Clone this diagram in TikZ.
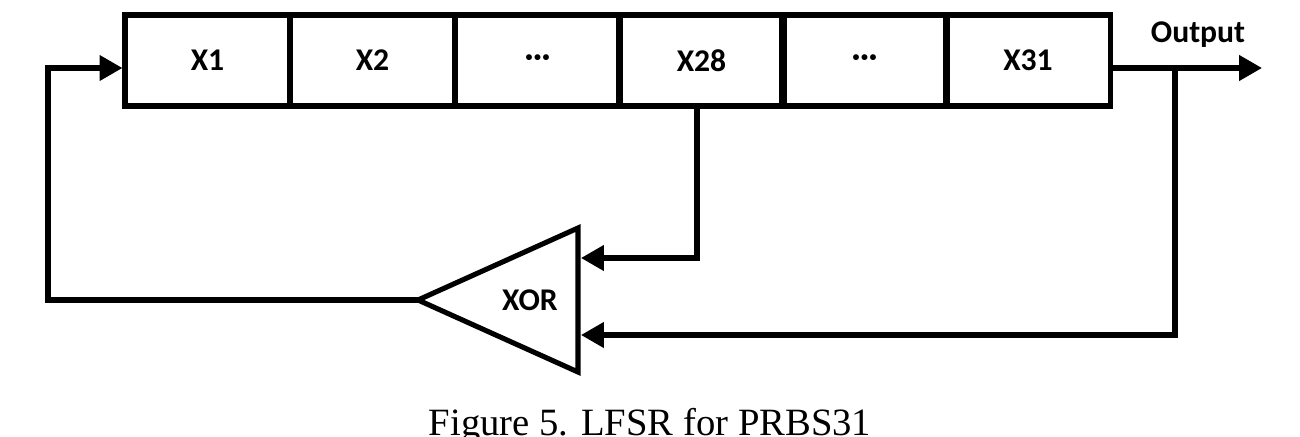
\documentclass[tikz,border=0pt]{standalone}
\usepackage{fontspec}
\setmainfont{Carlito}
\newfontfamily\capfont{Liberation Serif}
\usetikzlibrary{arrows.meta}
\begin{document}
\begin{tikzpicture}[x=0.02cm,y=-0.02cm,
  wire/.style={line width=2.9pt},
  arr/.style={wire,-{Triangle[length=13pt,width=14pt]}},
  cell/.style={draw,line width=2.9pt,minimum width=3.3cm,minimum height=1.82cm,font=\fontsize{18}{20}\selectfont\bfseries,inner sep=0pt}]
\useasboundingbox (0,0) rectangle (1300,436);
\clip (0,0) rectangle (1300,436);
\node[cell] (c1) at (207.5,60.5) {X1};
\node[cell] (c2) at (372.5,60.5) {X2};
\node[cell] (c3) at (537.5,60.5) {···};
\node[cell] (c4) at (701.5,60.5) {X28};
\node[cell] (c5) at (864.5,60.5) {···};
\node[cell] (c6) at (1028,60.5) {X31};
\coordinate (out) at (1262,68);
\draw[arr] (c6.east |- 0,68) -- (out);
\node[font=\fontsize{18}{20}\selectfont\bfseries] (ol) at (1198,35) {Output};
\draw[wire,line join=miter] (578,228) -- (578,372) -- (418,300) -- cycle;
\node[font=\fontsize{18}{20}\selectfont\bfseries] (xor) at (530,300) {XOR};
\coordinate (t28) at (697,106);
\coordinate (in1) at (581,258);
\coordinate (in2) at (581,335);
\draw[arr] (t28) -- (697,258) -- (in1);
\draw[arr] (1175,68) -- (1175,335) -- (in2);
\coordinate (xo) at (418,300);
\draw[arr] (xo) -- (48,300) -- (48,68) -- (c1.west |- 0,68);
\node[font=\fontsize{22}{26}\selectfont\capfont] (cap) at (650,426) {Figure 5. LFSR for PRBS31};
\end{tikzpicture}
\end{document}
